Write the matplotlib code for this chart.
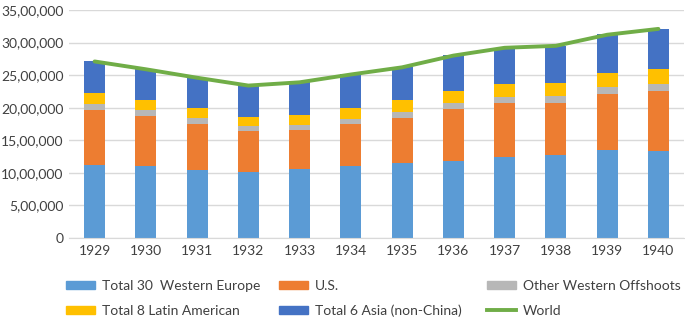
import numpy as np
import matplotlib.pyplot as plt
from matplotlib.ticker import FuncFormatter
from matplotlib.lines import Line2D
from matplotlib.patches import Patch

years = ["1929", "1930", "1931", "1932", "1933", "1934",
         "1935", "1936", "1937", "1938", "1939", "1940"]

# stacked segments
western_europe = [1121000, 1105000, 1049000, 1018000, 1054000, 1105000,
                  1146000, 1177000, 1238000, 1269000, 1351000, 1331000]
us = [844000, 768000, 706000, 620000, 609000, 645000,
      701000, 798000, 830000, 799000, 860000, 926000]
other_offshoots = [92000, 87000, 82000, 76000, 67000, 82000,
                   82000, 93000, 97000, 107000, 102000, 112000]
latin_america = [169000, 164000, 153000, 144000, 164000, 169000,
                 185000, 194000, 204000, 205000, 220000, 221000]
asia = [486000, 466000, 470000, 481000, 501000, 512000,
        511000, 543000, 553000, 568000, 604000, 614000]
world = [2710000, 2590000, 2460000, 2340000, 2390000, 2510000,
         2620000, 2800000, 2920000, 2950000, 3120000, 3210000]

labels = ["Total 30  Western Europe", "U.S.", "Other Western Offshoots",
          "Total 8 Latin American", "Total 6 Asia (non-China)", "World"]
colors = ["#5B9BD5", "#ED7D31", "#B7B7B7", "#FFC000", "#4472C4", "#70AD47"]


def indian(v, pos=None):
    v = int(round(v))
    s = str(v)
    if len(s) <= 3:
        return s
    head, tail = s[:-3], s[-3:]
    groups = []
    while len(head) > 2:
        groups.insert(0, head[-2:])
        head = head[:-2]
    if head:
        groups.insert(0, head)
    return ",".join(groups + [tail])


plt.rcParams['font.family'] = ['Lato', 'DejaVu Sans']
fig = plt.figure(figsize=(6.85, 3.24), dpi=100)
ax = fig.add_axes([69 / 685, 1 - 238 / 324, 615 / 685, 228 / 324])

x = np.arange(len(years))
series = [western_europe, us, other_offshoots, latin_america, asia]
bottom = np.zeros(len(years))
for vals, c in zip(series, colors[:5]):
    ax.bar(x, vals, width=0.41, bottom=bottom, color=c, zorder=2)
    bottom += np.array(vals)

ax.plot(x, world, color=colors[5], lw=2.8, zorder=3, solid_capstyle='round')

ax.set_xlim(-0.5, len(years) - 0.5)
ax.set_ylim(0, 3500000)
ax.set_yticks(np.arange(0, 3500001, 500000))
ax.yaxis.set_major_formatter(FuncFormatter(indian))
ax.set_xticks(x)
ax.set_xticklabels(years)
ax.grid(axis='y', color='#D9D9D9', lw=1, zorder=0)
for s in ['left', 'right', 'top']:
    ax.spines[s].set_visible(False)
ax.spines['bottom'].set_color('#D9D9D9')
ax.tick_params(length=0, labelsize=10, colors='#404040', pad=5)
ax.tick_params(axis='y', pad=4)

handles = [Patch(color=c) for c in colors[:5]] + [Line2D([], [], color=colors[5], lw=2.8)]
cols = [(0, 3), (1, 4), (2, 5)]
xs = [60, 273, 481]
for (i, j), xp in zip(cols, xs):
    fig.legend([handles[i], handles[j]], [labels[i], labels[j]],
               loc='upper left', bbox_to_anchor=(xp / 685, 1 - 274 / 324),
               frameon=False, fontsize=10, handlelength=2.1, handleheight=0.5,
               handletextpad=0.5, labelspacing=0.95, borderaxespad=0,
               labelcolor='#404040')

fig.savefig("out.png", dpi=100)
